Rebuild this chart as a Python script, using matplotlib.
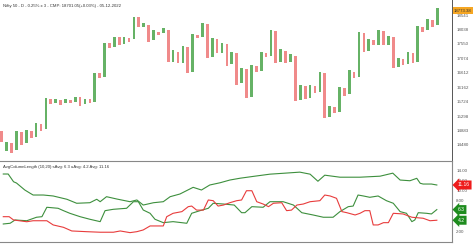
import numpy as np
import matplotlib.pyplot as plt

plt.rcParams['font.family'] = ['Liberation Sans', 'DejaVu Sans']

# column chart data (open / close of each column)
opens = [14870, 14315, 14526, 14342, 14833, 14526, 14870, 14710, 15061, 14918,
         15795, 15676, 15774, 15676, 15774, 15723, 15855, 15646, 15795, 15723,
         16596, 16489, 17570, 17457, 17792, 17546, 17738, 17704, 18471, 18133,
         18192, 17680, 17961, 17907, 18019, 16966, 17291, 16934, 17457, 16646,
         17849, 17792, 18226, 17128, 17704, 17239, 17546, 16882, 17259, 16283,
         16723, 15873, 16828, 16678, 17259, 17151, 17985, 16966, 17315, 16966,
         17151, 15774, 16199, 15825, 16199, 16025, 16615, 15281, 15557, 15427,
         16147, 15955, 16646, 16470, 17907, 17324, 17680, 17513, 17985, 17513,
         17771, 16805, 17043, 16892, 17239, 16966, 18133, 18019, 18365, 18192]
closes = [14570, 14570, 14252, 14870, 14479, 14898, 14665, 15090, 14870, 15825,
          15646, 15804, 15625, 15804, 15676, 15873, 15595, 15804, 15676, 16596,
          16439, 17570, 17404, 17792, 17513, 17792, 17623, 18471, 18133, 18250,
          17623, 18019, 17849, 18078, 16966, 17347, 16914, 17480, 16615, 17883,
          17738, 18250, 17076, 17738, 17239, 17570, 16828, 17291, 16230, 16754,
          15825, 16860, 16646, 17272, 17108, 18019, 16934, 17371, 16934, 17206,
          15744, 16230, 15795, 16230, 15994, 16646, 15234, 15595, 15397, 16178,
          15894, 16700, 16439, 17941, 17291, 17714, 17513, 18019, 17513, 17815,
          16754, 17076, 16860, 17272, 16914, 18157, 17961, 18390, 18133, 18773.38]
price_ticks = [18541, 18038, 17550, 17074, 16612, 16162, 15724, 15298, 14883, 14480]
last_price = 18773.38

# indicator lines (column index, value)
avg_x = [0.3, 1.3, 2.4, 3.0, 4.7, 5.8, 6.4, 8.5, 10.5, 13.3, 15.3, 18, 19.4, 20.1,
         21.4, 23.5, 26.2, 27.6, 28.9, 31, 33, 34.4, 36.4, 39.1, 40.8, 42.5, 44.6,
         46.6, 48.7, 51.7, 54.8, 57.9, 60.9, 63, 64.6, 66, 69.1, 73.2, 77.3, 79.9,
         81.4, 83.4, 84.8, 85.5, 86.1, 87.8, 88.9]
avg_y = [13.33, 13.33, 11.8, 11.55, 10.17, 9.52, 9.18, 9.18, 8.99, 8.34, 7.55, 7.66,
         8.34, 7.86, 8.85, 8.39, 7.86, 8.2, 7.2, 7.66, 7.86, 8.85, 9.38, 10.7, 10.17,
         11.16, 11.6, 12.14, 12.5, 12.9, 13.3, 13.5, 13.7, 13.3, 11.9, 13.1, 12.7,
         12.7, 12.9, 13.5, 12.14, 12.0, 12.48, 11.5, 11.35, 11.35, 11.16]
savg_x = [0.3, 1.7, 2.7, 5.1, 7.1, 8.2, 9.2, 11.5, 12.6, 13.9, 16, 18, 20.1, 21.1,
          22.8, 25.5, 26.9, 27.9, 28.9, 30.3, 31.3, 33, 35, 37.8, 38.8, 40.5, 42.2,
          43.2, 45.3, 47.5, 49, 49.7, 51.1, 53.4, 54.8, 57.5, 59.6, 61.3, 63.6, 65.7,
          67.7, 69.1, 70.8, 71.8, 72.8, 73.9, 75.2, 76.9, 78.6, 80, 81.4, 82.7, 83.8,
          84.4, 85.1, 86.8, 87.8, 88.9]
savg_y = [3.46, 3.6, 4.25, 4.1, 4.79, 4.9, 6.76, 6.56, 6.09, 5.57, 4.9, 4.39, 3.92,
          6.09, 6.36, 6.56, 7.86, 7.86, 6.22, 5.57, 4.39, 3.72, 3.92, 3.6, 5.57, 6.09,
          6.56, 7.55, 7.4, 7.2, 5.69, 5.69, 6.88, 6.76, 7.86, 7.86, 7.2, 5.69, 5.24,
          4.79, 4.79, 5.9, 6.88, 7.0, 9.18, 8.99, 8.73, 8.99, 8.06, 7.55, 5.9, 5.57,
          3.92, 4.25, 5.69, 5.57, 5.44, 6.3]
uavg_x = [0.3, 1.5, 2.4, 5.1, 6.4, 9.2, 10.5, 12.6, 14.3, 17.3, 20.1, 22.8, 24.2,
          26.2, 27.6, 28.9, 30.3, 33, 33.7, 35, 36.8, 38.1, 38.8, 39.8, 41.2, 42.2,
          43.2, 44.2, 45.3, 46.6, 48, 49, 50, 51.1, 52.1, 53.4, 54.5, 55.5, 57.2,
          58.2, 59.2, 60.3, 61.6, 63, 65, 66, 67.1, 68.4, 69.5, 70.5, 72.2, 73.2,
          74.2, 75.2, 75.9, 76.9, 78, 79, 80, 82, 83.8, 86.1, 87.5, 88.9]
uavg_y = [4.9, 4.9, 4.25, 3.9, 4.1, 4.1, 3.27, 2.8, 2.08, 1.94, 1.83, 1.83, 2.08,
          1.75, 1.94, 2.28, 3.07, 3.07, 4.9, 5.57, 5.9, 6.88, 7.0, 6.2, 6.2, 8.2,
          8.06, 7.0, 7.2, 7.66, 8.06, 8.2, 10.03, 10.03, 7.86, 7.4, 6.88, 7.55, 7.66,
          6.09, 6.2, 7.2, 7.4, 7.86, 8.06, 9.18, 8.99, 8.53, 5.9, 5.69, 5.24, 5.57,
          6.09, 6.09, 3.27, 3.27, 3.72, 3.72, 5.57, 5.44, 4.79, 4.59, 4.1, 4.2]
ind_ticks = [2, 8, 10, 12, 14]
tag_vals = [11.16, 6.3, 4.2]
tag_cols = ['#ee1c1c', '#1e8c1e', '#1e8c1e']

GREEN = '#66b266'
RED = '#f08a8a'
LGREEN = '#3d8f3d'
LRED = '#e83c3c'
W, H = 474, 248

fig = plt.figure(figsize=(W / 100, H / 100), dpi=100)
ax = fig.add_axes([0, 1 - 161 / H, 452 / W, 161 / H])
ax2 = fig.add_axes([0, 1 - 242 / H, 452 / W, 81 / H])

x = np.arange(len(opens))
o = np.array(opens)
c = np.array(closes)
cols = np.where(c >= o, GREEN, RED)
ax.bar(x, c - o, bottom=o, width=0.55, color=cols, linewidth=0)
ax.set_yscale('log')
ax.set_ylim(14044, 19078)
ax.set_xlim(-0.37, 92.0)
ax.yaxis.tick_right()
ax.set_yticks(price_ticks)
ax.set_yticklabels([str(t) for t in price_ticks])
ax.yaxis.set_minor_locator(plt.NullLocator())
ax.tick_params(axis='y', length=0, labelsize=3.2, labelcolor='#555555', pad=3)
ax.set_xticks([])
for s in ['top', 'left', 'bottom']:
    ax.spines[s].set_visible(False)
ax.spines['right'].set_color('#555555')
ax.spines['right'].set_linewidth(0.7)
ax.text(0.006, 0.975, 'Nifty 50 - D - 0.25% x 3 - CMP: 18701.05(+0.03%) - 05-12-2022',
        transform=ax.transAxes, fontsize=3.1, color='#333333', va='top')
ax.annotate(f'{last_price:.2f}', xy=(1.0, last_price), xycoords=('axes fraction', 'data'),
            xytext=(1.5, -1.5), textcoords='offset points', fontsize=3.1, color='#333333',
            va='center', ha='left', annotation_clip=False,
            bbox=dict(boxstyle='square,pad=0.35', fc='#f5a623', ec='none'))

ax2.plot(avg_x, avg_y, color=LGREEN, lw=0.8)
ax2.plot(savg_x, savg_y, color=LGREEN, lw=0.8)
ax2.plot(uavg_x, uavg_y, color=LRED, lw=0.8)
ax2.set_xlim(-0.37, 92.0)
ax2.set_ylim(-0.1, 15.9)
ax2.yaxis.tick_right()
ax2.set_yticks(ind_ticks)
ax2.set_yticklabels([f'{t:.2f}' for t in ind_ticks])
ax2.tick_params(axis='y', length=0, labelsize=3.2, labelcolor='#555555', pad=3)
ax2.set_xticks([])
ax2.spines['left'].set_visible(False)
for s in ['top', 'bottom', 'right']:
    ax2.spines[s].set_color('#888888')
    ax2.spines[s].set_linewidth(0.8)
ax2.text(0.006, 0.95, 'AvgColumnLength (10,20):sAvg: 6.3 uAvg: 4.2 Avg: 11.16',
         transform=ax2.transAxes, fontsize=3.1, color='#333333', va='top')
for v, col in zip(tag_vals, tag_cols):
    ax2.annotate(f'{v}', xy=(1.0, v), xycoords=('axes fraction', 'data'),
                 xytext=(4, 0), textcoords='offset points', fontsize=3.6, color='#ffffff',
                 va='center', ha='left', annotation_clip=False, zorder=5,
                 bbox=dict(boxstyle='larrow,pad=0.4', fc=col, ec='none'))

fig.savefig('out.png', dpi=100)
